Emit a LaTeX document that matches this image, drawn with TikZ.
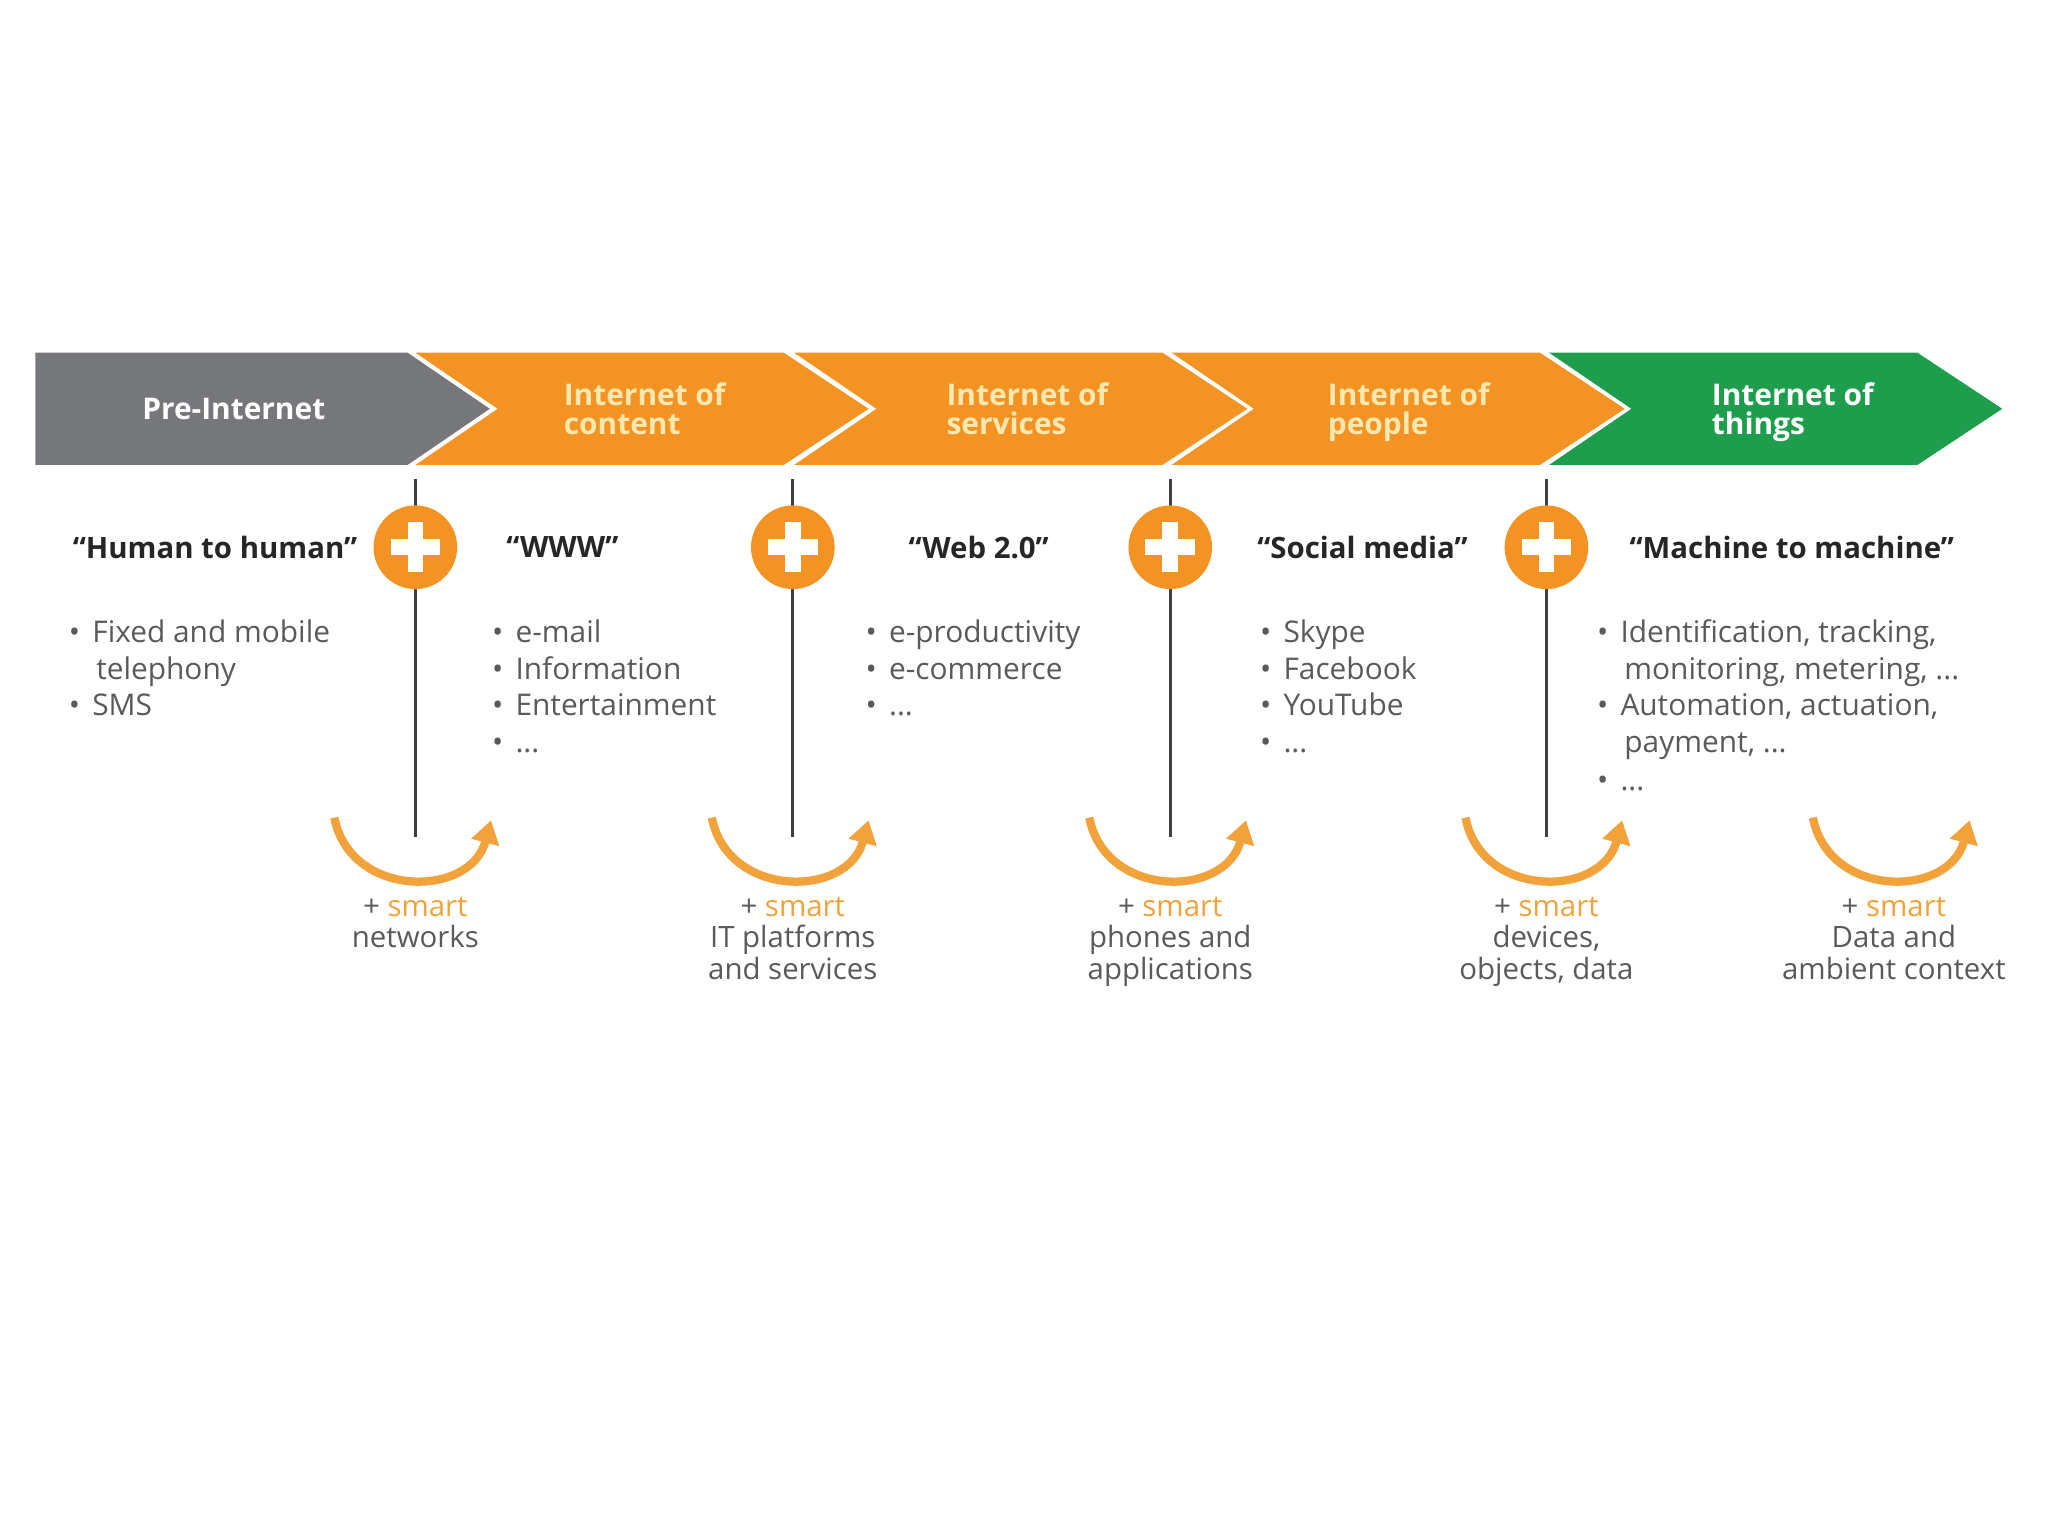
\documentclass[tikz,border=0pt]{standalone}
\usepackage{fontspec}
\setmainfont{Open Sans}
\usetikzlibrary{arrows.meta}
\definecolor{org}{HTML}{F39323}
\definecolor{org2}{HTML}{F2A23A}
\definecolor{grn}{HTML}{1E9E4C}
\definecolor{gry}{HTML}{76777A}
\definecolor{txt}{HTML}{5A5A5A}
\definecolor{ylw}{HTML}{FCE8B0}
\tikzset{
  chlabel/.style={font=\fontsize{6.5}{6.4}\selectfont\bfseries, align=left, anchor=north west, inner sep=0},
  head/.style={font=\fontsize{6.4}{8}\selectfont\bfseries, text=black!85, anchor=west, inner sep=0},
  item/.style={font=\fontsize{6.5}{8}\selectfont, text=txt, anchor=base west, inner sep=0},
  smartlbl/.style={font=\fontsize{6.4}{6.9}\selectfont, text=txt, align=center, anchor=north, inner sep=0},
  vline/.style={draw=black!75, line width=0.6pt},
  plusc/.style={circle, fill=org, minimum size=0.64cm, inner sep=0},
  curvearr/.style={draw=org2, line width=1.8pt, -{Triangle[length=5pt,width=6pt]}}
}
\begin{document}
\begin{tikzpicture}[x=0.01cm,y=-0.01cm]
\useasboundingbox (0,0) rectangle (1568,1176);
% chevrons
\fill[gry] (27,270) -- (312,270) -- (375,313) -- (312,356) -- (27,356) -- cycle;
\foreach \L/\c in {318/org,608/org,897/org,1186/grn}{
  \pgfmathsetmacro{\R}{\L+282}
  \fill[\c] (\L,270) -- (\R,270) -- (\R+65,313) -- (\R,356) -- (\L,356) -- (\L+63,313) -- cycle;
}
\node[font=\fontsize{6.5}{6.4}\selectfont\bfseries,text=white] (c0) at (179,313) {Pre-Internet};
\node[chlabel,text=ylw] (c1) at (431,292) {Internet of\\content};
\node[chlabel,text=ylw] (c2) at (724,292) {Internet of\\services};
\node[chlabel,text=ylw] (c3) at (1016,292) {Internet of\\people};
\node[chlabel,text=white] (c4) at (1310,292) {Internet of\\things};
% vertical lines with plus
\foreach \x/\n in {318/a,607/b,896/c,1184/d}{
  \coordinate (t\n) at (\x,367);
  \coordinate (b\n) at (\x,641);
  \draw[vline] (t\n) -- (b\n);
  \node[plusc] (p\n) at (\x,419) {};
  \fill[white] (\x-6,419-19) rectangle (\x+6,419+19);
  \fill[white] (\x-19,419-6) rectangle (\x+19,419+6);
}
% headers
\node[head] (h1) at (55,419) {“Human to human”};
\node[head] (h2) at (387,419) {“WWW”};
\node[head] (h3) at (695,419) {“Web 2.0”};
\node[head] (h4) at (962,419) {“Social media”};
\node[head] (h5) at (1247,419) {“Machine to machine”};
% bullets
\newcommand{\bul}[3]{\node[item] at (#1,#2+8) {\textbullet};\node[item] at (#1+18,#2+8) {#3};}
\newcommand{\cont}[3]{\node[item] at (#1,#2+8) {#3};}
\bul{52}{484}{Fixed and mobile}
\cont{73}{512}{telephony}
\bul{52}{540}{SMS}
\bul{376}{484}{e-mail}
\bul{376}{512}{Information}
\bul{376}{540}{Entertainment}
\bul{376}{568}{...}
\bul{662}{484}{e-productivity}
\bul{662}{512}{e-commerce}
\bul{662}{540}{...}
\bul{964}{484}{Skype}
\bul{964}{512}{Facebook}
\bul{964}{540}{YouTube}
\bul{964}{568}{...}
\bul{1222}{484}{Identification, tracking,}
\cont{1243}{512}{monitoring, metering, ...}
\bul{1222}{540}{Automation, actuation,}
\cont{1243}{568}{payment, ...}
\bul{1222}{597}{...}
% curved arrows and labels
\foreach \x/\n/\t in {318/a/networks,607/b/{IT platforms\\and services},896/c/{phones and\\applications},1184/d/{devices,\\objects, data},1450/e/{Data and\\ambient context}}{
  \coordinate (s\n) at (\x-62,626);
  \coordinate (e\n) at (\x+58,628);
  \draw[curvearr] (s\n) .. controls (\x-50,688) and (\x+42,688) .. (e\n);
  \node[smartlbl] (l\n) at (\x,686) {+ \textcolor{org2}{smart}\\\t};
}
\end{tikzpicture}
\end{document}
